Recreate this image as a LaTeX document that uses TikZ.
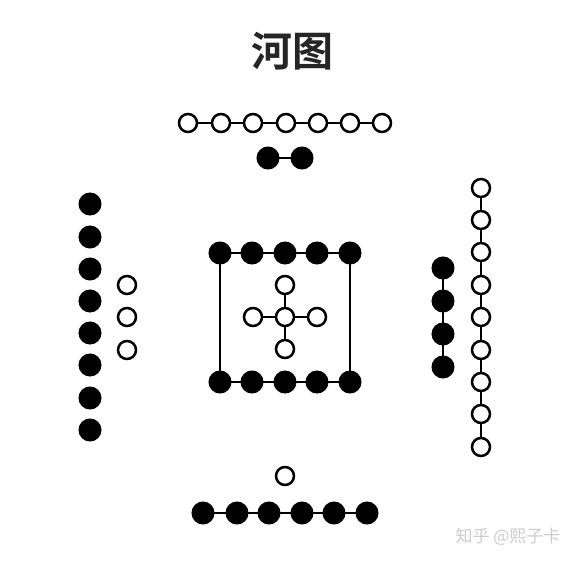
\documentclass[tikz,border=0pt]{standalone}
\usepackage{fontspec}
\newfontfamily\cjk{Noto Sans CJK SC}
\newfontfamily\cjkbold{Noto Sans CJK SC Bold}
\begin{document}
\begin{tikzpicture}[x=1pt,y=-1pt,
  wdot/.style={circle,draw=black,fill=white,line width=2.5pt,minimum size=18pt,inner sep=0pt},
  bdot/.style={circle,draw=black,fill=black,line width=1pt,minimum size=22pt,inner sep=0pt},
  link/.style={line width=2.2pt,black}]
\useasboundingbox[fill=white] (0,0) rectangle (578,561);
\node[font=\cjkbold\fontsize{41}{41}\selectfont,text=black!85] (title) at (292,51) {河图};
\node[font=\cjk\fontsize{17}{17}\selectfont,text=black!20] (wm) at (508,537) {知乎 @熙子卡};
% top: 7 white
\foreach \i/\x in {1/188,2/221,3/253,4/286,5/318,6/350,7/382}
  \coordinate (tw\i) at (\x,123);
\draw[link] (tw1) -- (tw7);
\foreach \i in {1,...,7} \node[wdot] (Tw\i) at (tw\i) {};
% top: 2 black
\coordinate (tb1) at (268,158); \coordinate (tb2) at (302,158);
\draw[link] (tb1) -- (tb2);
\node[bdot] (Tb1) at (tb1) {}; \node[bdot] (Tb2) at (tb2) {};
% left: 8 black, 3 white
\foreach \i/\y in {1/204,2/237,3/269,4/301,5/333,6/365,7/398,8/430}
  \node[bdot] (Lb\i) at (90,\y) {};
\foreach \i/\y in {1/285,2/317,3/350}
  \node[wdot] (Lw\i) at (127,\y) {};
% right: 9 white, 4 black
\foreach \i/\y in {1/188,2/220,3/252,4/285,5/317,6/350,7/382,8/414,9/447}
  \coordinate (rw\i) at (481,\y);
\draw[link] (rw1) -- (rw9);
\foreach \i in {1,...,9} \node[wdot] (Rw\i) at (rw\i) {};
\foreach \i/\y in {1/268,2/301,3/334,4/367}
  \coordinate (rb\i) at (443,\y);
\draw[link] (rb1) -- (rb4);
\foreach \i in {1,...,4} \node[bdot] (Rb\i) at (rb\i) {};
% center square
\foreach \i/\x in {1/220,2/252,3/285,4/317,5/350} {
  \coordinate (cu\i) at (\x,253);
  \coordinate (cd\i) at (\x,382);
}
\draw[link] (cu1) -- (cu5) -- (cd5) -- (cd1) -- cycle;
\foreach \i in {1,...,5} {
  \node[bdot] (Cu\i) at (cu\i) {};
  \node[bdot] (Cd\i) at (cd\i) {};
}
% center cross
\coordinate (cc) at (285,317);
\coordinate (cn) at (285,285);
\coordinate (cs) at (285,349);
\coordinate (cw) at (253,317);
\coordinate (ce) at (317,317);
\draw[link] (cn) -- (cs) (cw) -- (ce);
\foreach \n in {cc,cn,cs,cw,ce} \node[wdot] (N\n) at (\n) {};
% bottom
\node[wdot] (Bw) at (285,476) {};
\foreach \i/\x in {1/203,2/237,3/269,4/302,5/334,6/367}
  \coordinate (bb\i) at (\x,513);
\draw[link] (bb1) -- (bb6);
\foreach \i in {1,...,6} \node[bdot] (Bb\i) at (bb\i) {};
\end{tikzpicture}
\end{document}
